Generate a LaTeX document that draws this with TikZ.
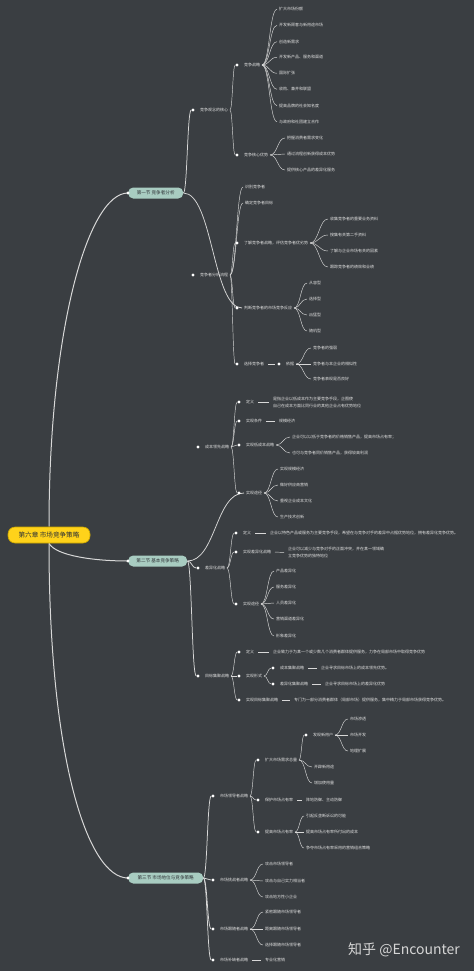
\documentclass[tikz,border=0pt]{standalone}
\usepackage{fontspec}
\setmainfont{Noto Sans CJK SC}
\usetikzlibrary{calc,backgrounds}
\definecolor{bgc}{HTML}{3A3E42}
\definecolor{lnc}{HTML}{D8D8D8}
\definecolor{txc}{HTML}{E2E2E2}
\definecolor{secc}{HTML}{A8CCC1}
\definecolor{rootc}{HTML}{FFD21A}
\definecolor{rootb}{HTML}{C9A400}
\definecolor{dkc}{HTML}{2E3236}
\definecolor{wmc}{HTML}{D6D6D6}
\newcommand\mkdot[4]{\node[dt] (#1d) at (#2,#3) {};\node[lf] (#1) at (#2+5,#3) {#4};}
\newcommand\mkleaf[4]{\node[lf] (#1) at (#2,#3) {#4};}
\begin{document}
\begin{tikzpicture}[x=1pt,y=-1pt,
  lf/.style={anchor=west,inner sep=0pt,outer xsep=2pt,text=txc,font=\fontsize{4}{4.8}\selectfont},
  dt/.style={circle,fill=white,inner sep=0pt,minimum size=3.2pt},
  ln/.style={draw=lnc,line width=0.45pt},
  lnb/.style={draw=lnc,line width=0.75pt},
  lnr/.style={draw=lnc,line width=1pt},
  st/.style={shorten <=2pt,shorten >=2pt},
  br/.style={to path={let \p1=(\tikztostart.east),\p2=(\tikztotarget.west),\n1={0.5*(\x2-\x1)} in (\p1) .. controls +(\n1,0) and +(-\n1,0) .. (\p2) \tikztonodes}},
  sec/.style={anchor=west,fill=secc,rounded corners=5pt,text=dkc,font=\fontsize{4.6}{5}\selectfont,minimum height=11pt,inner sep=0pt},
  rootn/.style={fill=rootc,draw=rootb,line width=0.6pt,rounded corners=7pt,text=dkc,font=\fontsize{6.6}{7}\selectfont,minimum width=82pt,minimum height=16pt,inner sep=0pt},
  wm/.style={text=wmc,font=\fontsize{14}{16}\selectfont,inner sep=0pt}
]
\begin{pgfonlayer}{background}
\fill[bgc] (0,0) rectangle (474,971);
\end{pgfonlayer}
\useasboundingbox (0,0) rectangle (474,971);

% root and sections
\node[rootn] (root) at (49,535) {第六章 市场竞争策略};
\node[sec,minimum width=55pt] (s1) at (128,193) {第一节 竞争者分析};
\node[sec,minimum width=59pt] (s2) at (128,561) {第二节 基本竞争策略};
\node[sec,minimum width=75pt] (s3) at (128,878) {第三节 市场地位与竞争策略};
\node[dt] (s1d) at (s1.west) {};
\node[dt] (s2d) at (s2.west) {};
\node[dt] (s3d) at (s3.west) {};

% ---------- Section 1 ----------
\mkdot{A}{193}{110}{竞争观念的核心}
\mkdot{B}{193}{275}{竞争者分析流程}
\mkdot{Aa}{237}{65}{竞争战略}
\mkdot{Ab}{237}{155}{竞争核心优势}
\mkleaf{Aa1}{277}{9.3}{扩大市场份额}
\mkleaf{Aa2}{277}{25.3}{开发新顾客与新用途市场}
\mkleaf{Aa3}{277}{41.7}{创造新需求}
\mkleaf{Aa4}{277}{57.3}{开发新产品、服务和渠道}
\mkleaf{Aa5}{277}{73.3}{国际扩张}
\mkleaf{Aa6}{277}{89.3}{收购、兼并和联盟}
\mkleaf{Aa7}{277}{105.7}{提高品牌的社会知名度}
\mkleaf{Aa8}{277}{121.7}{与政府和社团建立合作}
\mkleaf{Ab1}{285}{138}{把握消费者需求变化}
\mkleaf{Ab2}{285}{154}{通过流程创新获得成本优势}
\mkleaf{Ab3}{285}{170}{提供核心产品的差异化服务}
\mkleaf{B1}{243}{187}{识别竞争者}
\mkleaf{B2}{243}{203}{确定竞争者目标}
\mkdot{Bc}{237}{243}{了解竞争者战略，评估竞争者优劣势}
\mkleaf{Bc1}{328}{219}{收集竞争者的重要业务资料}
\mkleaf{Bc2}{328}{235}{搜集有关第二手资料}
\mkleaf{Bc3}{328}{251}{了解与企业市场有关的因素}
\mkleaf{Bc4}{328}{267}{跟踪竞争者的绩效和业绩}
\mkdot{Bd}{237}{308}{判断竞争者的市场竞争反应}
\mkleaf{Bd1}{307}{283}{从容型}
\mkleaf{Bd2}{307}{299}{选择型}
\mkleaf{Bd3}{307}{315}{凶猛型}
\mkleaf{Bd4}{307}{331}{随机型}
\mkdot{Be}{237}{364}{选择竞争者}
\mkdot{Bf}{279}{364}{依据}
\mkleaf{Bf1}{311}{348}{竞争者的强弱}
\mkleaf{Bf2}{311}{364}{竞争者与本企业的相似性}
\mkleaf{Bf3}{311}{379}{竞争者表现是否良好}

% ---------- Section 2 ----------
\mkdot{C}{198}{447}{成本领先战略}
\mkdot{Ca}{239}{402}{定义}
\node[lf,align=left,font=\fontsize{4}{7}\selectfont] (Ca1) at (271,402) {是指企业以低成本作为主要竞争手段，企图使\\自己在成本方面比同行业的其他企业占有优势地位};
\mkdot{Cb}{239}{421}{实现条件}
\mkleaf{Cb1}{277}{421}{规模经济}
\mkdot{Cc}{239}{445}{实现低成本战略}
\mkleaf{Cc1}{290}{437}{企业可以以低于竞争者的价格销售产品，提高市场占有率；}
\mkleaf{Cc2}{290}{453}{也可与竞争者同价销售产品，获得较高利润}
\mkdot{Cd}{239}{493}{实现途径}
\mkleaf{Cd1}{278}{469}{实现规模经济}
\mkleaf{Cd2}{278}{485}{做好供应商营销}
\mkleaf{Cd3}{278}{501}{重视企业成本文化}
\mkleaf{Cd4}{278}{517}{生产技术创新}

\mkdot{D}{198}{568}{差异化战略}
\mkdot{Da}{236}{533}{定义}
\mkleaf{Da1}{268}{533}{企业以特色产品或服务为主要竞争手段，希望在与竞争对手的差异中占据优势地位，拥有差异化竞争优势。}
\mkdot{Db}{236}{552}{实现差异化战略}
\node[lf,align=left,font=\fontsize{4}{7}\selectfont] (Db1) at (286,552.5) {企业可以减少与竞争对手的正面冲突，并在某一领域确\\立竞争优势的独特地位};
\mkdot{Dc}{236}{604}{实现途径}
\mkleaf{Dc1}{274}{571}{产品差异化}
\mkleaf{Dc2}{274}{587}{服务差异化}
\mkleaf{Dc3}{274}{603}{人员差异化}
\mkleaf{Dc4}{274}{619}{营销渠道差异化}
\mkleaf{Dc5}{274}{636}{形象差异化}

\mkdot{E}{198}{676}{目标集聚战略}
\mkdot{Ea}{239}{652}{定义}
\mkleaf{Ea1}{271}{652}{企业致力于为某一个或少数几个消费者群体提供服务，力争在局部市场中取得竞争优势}
\mkdot{Eb}{239}{676}{实现形式}
\mkdot{Ebx}{273}{668}{成本集聚战略}
\mkleaf{Ebx1}{319}{668}{企业寻求目标市场上的成本领先优势。}
\mkdot{Eby}{273}{684}{差异化集聚战略}
\mkleaf{Eby1}{323}{684}{企业寻求目标市场上的差异化优势}
\mkdot{Ec}{239}{700}{实现目标集聚战略}
\mkleaf{Ec1}{292}{700}{专门为一部分消费者群体（局部市场）提供服务，集中精力于局部市场获得竞争优势。}

% ---------- Section 3 ----------
\mkdot{F}{213}{796}{市场领导者战略}
\mkdot{Fa}{258}{760}{扩大市场需求总量}
\mkdot{Fx}{306}{735}{发现新用户}
\mkleaf{Fx1}{348}{719}{市场渗透}
\mkleaf{Fx2}{348}{735}{市场开发}
\mkleaf{Fx3}{348}{751}{地理扩展}
\mkleaf{Fa2}{312}{767}{开辟新用途}
\mkleaf{Fa3}{312}{783}{增加使用量}
\mkdot{Fb}{258}{800}{保护市场占有率}
\mkleaf{Fb1}{304}{800}{阵地防御、主动防御}
\mkdot{Fc}{258}{832}{提高市场占有率}
\mkleaf{Fc1}{304}{816}{引起反垄断诉讼的可能}
\mkleaf{Fc2}{304}{832}{提高市场占有率所付出的成本}
\mkleaf{Fc3}{304}{848}{争夺市场占有率采用的营销组合策略}

\mkdot{G}{213}{880}{市场挑战者战略}
\mkleaf{G1}{263}{864}{攻击市场领导者}
\mkleaf{G2}{263}{881}{攻击与自己实力相当者}
\mkleaf{G3}{263}{897}{攻击地方性小企业}
\mkdot{H}{213}{929}{市场跟随者战略}
\mkleaf{H1}{263}{912}{紧密跟随市场领导者}
\mkleaf{H2}{263}{929}{距离跟随市场领导者}
\mkleaf{H3}{263}{945}{选择跟随市场领导者}
\mkdot{I}{213}{960}{市场补缺者战略}
\mkleaf{I1}{263}{960}{专业化营销}

\node[wm] (wm) at (404,950) {知乎 @Encounter};

% ---------- connectors ----------
\begin{pgfonlayer}{background}
\draw[lnr] (root.north) .. controls (49,330) and (88,193) .. (s1d.center);
\draw[lnr] (root.south) .. controls (56,556) and (95,561) .. (s2d.center);
\draw[lnr] (root.south) .. controls (49,760) and (88,878) .. (s3d.center);

\foreach \c in {Ad,Bd} \draw[lnb] (s1) to[br] (\c);
\foreach \c in {Cd,Dd,Ed} \draw[lnb] (s2) to[br] (\c);
\foreach \c in {Fd,Gd,Hd,Id} \draw[lnb] (s3) to[br] (\c);

\foreach \c in {Aad,Abd} \draw[ln] (A) to[br] (\c);
\foreach \c in {Aa1,Aa2,Aa3,Aa4,Aa5,Aa6,Aa7,Aa8} \draw[ln] (Aa) to[br] (\c);
\foreach \c in {Ab1,Ab2,Ab3} \draw[ln] (Ab) to[br] (\c);
\foreach \c in {B1,B2,Bcd,Bdd,Bed} \draw[ln] (B) to[br] (\c);
\foreach \c in {Bc1,Bc2,Bc3,Bc4} \draw[ln] (Bc) to[br] (\c);
\foreach \c in {Bd1,Bd2,Bd3,Bd4} \draw[ln] (Bd) to[br] (\c);
\draw[ln,st] (Be.east) -- (Bfd.west);
\foreach \c in {Bf1,Bf2,Bf3} \draw[ln] (Bf) to[br] (\c);

\foreach \c in {Cad,Cbd,Ccd,Cdd} \draw[ln] (C) to[br] (\c);
\draw[ln,st] (Ca.east) -- (Ca1.west);
\draw[ln,st] (Cb.east) -- (Cb1.west);
\foreach \c in {Cc1,Cc2} \draw[ln] (Cc) to[br] (\c);
\foreach \c in {Cd1,Cd2,Cd3,Cd4} \draw[ln] (Cd) to[br] (\c);

\foreach \c in {Dad,Dbd,Dcd} \draw[ln] (D) to[br] (\c);
\draw[ln,st] (Da.east) -- (Da1.west);
\draw[ln,st] (Db.east) -- (Db1.west);
\foreach \c in {Dc1,Dc2,Dc3,Dc4,Dc5} \draw[ln] (Dc) to[br] (\c);

\foreach \c in {Ead,Ebd,Ecd} \draw[ln] (E) to[br] (\c);
\draw[ln,st] (Ea.east) -- (Ea1.west);
\foreach \c in {Ebxd,Ebyd} \draw[ln] (Eb) to[br] (\c);
\draw[ln,st] (Ebx.east) -- (Ebx1.west);
\draw[ln,st] (Eby.east) -- (Eby1.west);
\draw[ln,st] (Ec.east) -- (Ec1.west);

\foreach \c in {Fad,Fbd,Fcd} \draw[ln] (F) to[br] (\c);
\foreach \c in {Fxd,Fa2,Fa3} \draw[ln] (Fa) to[br] (\c);
\foreach \c in {Fx1,Fx2,Fx3} \draw[ln] (Fx) to[br] (\c);
\draw[ln,st] (Fb.east) -- (Fb1.west);
\foreach \c in {Fc1,Fc2,Fc3} \draw[ln] (Fc) to[br] (\c);
\foreach \c in {G1,G2,G3} \draw[ln] (G) to[br] (\c);
\foreach \c in {H1,H2,H3} \draw[ln] (H) to[br] (\c);
\draw[ln,st] (I.east) -- (I1.west);
\end{pgfonlayer}
\end{tikzpicture}
\end{document}
